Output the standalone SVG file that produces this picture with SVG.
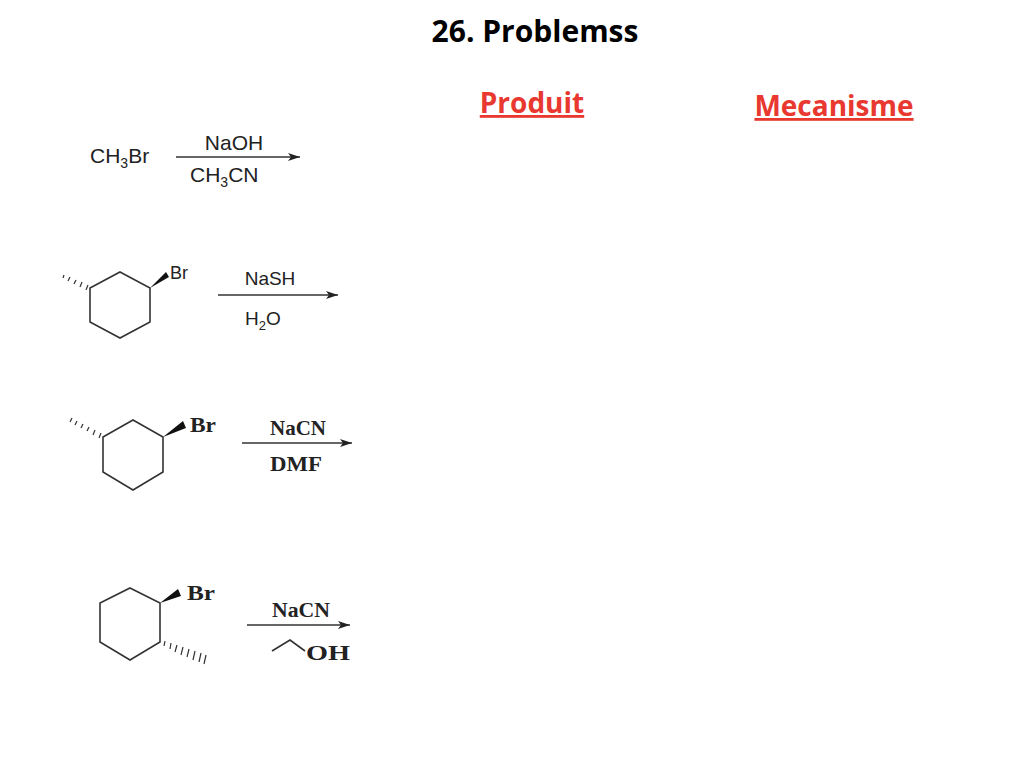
<svg xmlns="http://www.w3.org/2000/svg" width="1024" height="775" viewBox="0 0 1024 775">
<defs>
<marker id="ah" markerWidth="12" markerHeight="8" refX="12" refY="4" orient="auto" markerUnits="userSpaceOnUse"><path d="M0,0 L12,4 L0,8 L3,4 Z" fill="#222"/></marker>
</defs>
<style>
.t{font-family:"Liberation Sans",Arial,sans-serif;fill:#222}
.s{font-family:"Liberation Serif","Times New Roman",serif;font-weight:bold;fill:#222}
.h{font-family:"Open Sans","Liberation Sans",sans-serif;font-weight:bold}
.b{fill:none;stroke:#333;stroke-width:1.6}
.hash{stroke:#333;stroke-width:1.2}
</style>
<rect width="1024" height="775" fill="#fff"/>
<text class="h" x="535" y="42" font-size="30" text-anchor="middle" fill="#000">26. Problemss</text>
<text class="h" x="532" y="113" font-size="28" text-anchor="middle" fill="#e8382f" text-decoration="underline">Produit</text>
<text class="h" x="834" y="116" font-size="28" text-anchor="middle" fill="#e8382f" text-decoration="underline">Mecanisme</text>

<g id="r1">
<text class="t" x="90" y="163" font-size="21">CH<tspan font-size="14" dy="5">3</tspan><tspan dy="-5">Br</tspan></text>
<line class="b" x1="176" y1="157" x2="300" y2="157" marker-end="url(#ah)"/>
<text class="t" x="234" y="150" font-size="21" text-anchor="middle">NaOH</text>
<text class="t" x="190" y="182" font-size="21">CH<tspan font-size="14" dy="5">3</tspan><tspan dy="-5">CN</tspan></text>
</g>

<g id="r2">
<polygon class="b" points="120,272 150,288 150,322 120,338 90,322 90,288"/>
<polygon points="150,288 166,272 169,277" fill="#111"/>
<g class="hash"><line x1="88" y1="285" x2="86" y2="290"/><line x1="82" y1="282" x2="80" y2="287"/><line x1="76" y1="280" x2="74" y2="284"/><line x1="70" y1="277" x2="68" y2="281"/><line x1="64" y1="275" x2="63" y2="278"/></g>
<text class="t" x="170" y="279" font-size="18">Br</text>
<line class="b" x1="218" y1="295" x2="338" y2="295" marker-end="url(#ah)"/>
<text class="t" x="270" y="285" font-size="19" text-anchor="middle">NaSH</text>
<text class="t" x="245" y="325" font-size="19">H<tspan font-size="13" dy="5">2</tspan><tspan dy="-5">O</tspan></text>
</g>

<g id="r3">
<polygon class="b" points="133,420 163,437 163,472 133,490 103,472 103,437"/>
<polygon points="163,437 183,421 186,428" fill="#111"/>
<g class="hash"><line x1="101" y1="433" x2="99" y2="438"/><line x1="95" y1="430" x2="93" y2="435"/><line x1="89" y1="427" x2="87" y2="431"/><line x1="83" y1="424" x2="81" y2="428"/><line x1="77" y1="421" x2="75" y2="425"/><line x1="72" y1="418" x2="70" y2="422"/></g>
<text class="s" x="190" y="432" font-size="22" textLength="26" lengthAdjust="spacingAndGlyphs">Br</text>
<line class="b" x1="242" y1="443" x2="352" y2="443" marker-end="url(#ah)"/>
<text class="s" x="270" y="435" font-size="20" textLength="56" lengthAdjust="spacingAndGlyphs" font-weight="normal">NaCN</text>
<text class="s" x="270" y="471" font-size="20" textLength="52" lengthAdjust="spacingAndGlyphs" font-weight="normal">DMF</text>
</g>

<g id="r4">
<polygon class="b" points="130,588 160,603 160,642 130,660 100,642 100,603"/>
<polygon points="160,603 178,589 181,596" fill="#111"/>
<g class="hash"><line x1="165" y1="641" x2="164" y2="646"/><line x1="171" y1="643" x2="170" y2="649"/><line x1="177" y1="645" x2="175" y2="652"/><line x1="183" y1="647" x2="181" y2="655"/><line x1="189" y1="649" x2="187" y2="657"/><line x1="195" y1="651" x2="193" y2="660"/><line x1="201" y1="653" x2="199" y2="662"/><line x1="206" y1="655" x2="204" y2="664"/></g>
<text class="s" x="187" y="600" font-size="22" textLength="28" lengthAdjust="spacingAndGlyphs">Br</text>
<line class="b" x1="247" y1="625" x2="350" y2="625" marker-end="url(#ah)"/>
<text class="s" x="272" y="617" font-size="20" textLength="58" lengthAdjust="spacingAndGlyphs" font-weight="normal">NaCN</text>
<polyline class="b" points="272,651 290,640 305,651"/>
<text class="s" x="306" y="660" font-size="22" textLength="44" lengthAdjust="spacingAndGlyphs">OH</text>
</g>
</svg>
